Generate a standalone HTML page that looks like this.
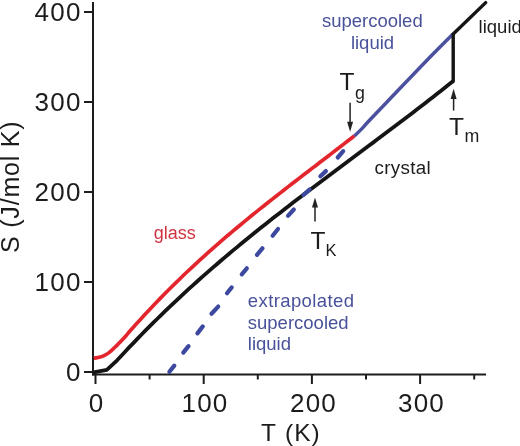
<!DOCTYPE html>
<html><head><meta charset="utf-8">
<style>
html,body{margin:0;padding:0;background:#fff;}
body{width:520px;height:446px;overflow:hidden;}
svg{display:block;}
text{font-family:"Liberation Sans",Arial,sans-serif;}
</style></head>
<body>
<svg width="520" height="446" viewBox="0 0 520 446">
<rect width="520" height="446" fill="#fff"/>
<!-- axes -->
<g stroke="#1c1c1c" stroke-width="2" fill="none">
<line x1="93" y1="2" x2="93" y2="375.5"/>
<line x1="92" y1="374.6" x2="486" y2="374.6"/>
<!-- y ticks -->
<line x1="84" y1="12" x2="93" y2="12"/>
<line x1="84" y1="102" x2="93" y2="102"/>
<line x1="84" y1="192" x2="93" y2="192"/>
<line x1="84" y1="282" x2="93" y2="282"/>
<line x1="84" y1="372" x2="93" y2="372"/>
<!-- x ticks -->
<line x1="95.5" y1="374" x2="95.5" y2="384"/>
<line x1="203.7" y1="374" x2="203.7" y2="384"/>
<line x1="311.9" y1="374" x2="311.9" y2="384"/>
<line x1="420.1" y1="374" x2="420.1" y2="384"/>
<line x1="149.6" y1="374" x2="149.6" y2="379.5"/>
<line x1="257.8" y1="374" x2="257.8" y2="379.5"/>
<line x1="366" y1="374" x2="366" y2="379.5"/>
<line x1="474.2" y1="374" x2="474.2" y2="379.5"/>
</g>
<!-- tick labels -->
<g font-size="26" fill="#1c1c1c" text-anchor="end" letter-spacing="1.2">
<text x="81.6" y="21">400</text>
<text x="81.6" y="111">300</text>
<text x="81.6" y="201">200</text>
<text x="81.6" y="291">100</text>
<text x="81.6" y="381">0</text>
</g>
<g font-size="26" fill="#1c1c1c" text-anchor="middle" letter-spacing="1.2">
<text x="96.5" y="412">0</text>
<text x="205" y="412">100</text>
<text x="313.5" y="412">200</text>
<text x="421.5" y="412">300</text>
</g>
<!-- axis titles -->
<text x="261" y="441.2" font-size="24.5" fill="#1c1c1c" letter-spacing="1" word-spacing="0.7">T (K)</text>
<text transform="translate(18.8,253) rotate(-90)" font-size="25" fill="#1c1c1c" letter-spacing="0.8">S (J/mol K)</text>


<!-- crystal -->
<path fill="none" stroke="#151515" stroke-width="3.8" stroke-linejoin="round" d="M93.6,372.4 L106.8,369.9 L117.1,360.3 L121.1,356.0 L125.1,351.7 L129.1,347.4 L133.1,343.3 L137.1,339.1 L141.1,335.0 L145.1,330.9 L149.1,326.9 L153.1,322.9 L157.1,319.0 L161.1,315.1 L165.1,311.2 L169.1,307.4 L173.1,303.6 L177.1,299.8 L181.1,296.1 L185.1,292.4 L189.1,288.7 L193.1,285.1 L197.1,281.5 L201.1,277.9 L205.1,274.4 L209.1,270.9 L213.1,267.4 L217.1,264.0 L221.1,260.5 L225.1,257.1 L229.1,253.8 L233.1,250.4 L237.1,247.1 L241.1,243.8 L245.1,240.5 L249.1,237.3 L253.1,234.0 L257.1,230.8 L261.1,227.6 L265.1,224.4 L269.1,221.3 L273.1,218.1 L277.1,215.0 L281.1,211.9 L285.1,208.8 L289.1,205.7 L293.1,202.6 L297.1,199.5 L301.1,196.5 L305.1,193.4 L309.1,190.4 L313.1,187.4 L317.1,184.4 L321.1,181.4 L325.1,178.4 L329.1,175.4 L333.1,172.4 L337.1,169.4 L341.1,166.4 L345.1,163.4 L349.1,160.4 L353.1,157.5 L357.1,154.5 L361.1,151.5 L365.1,148.5 L369.1,145.5 L373.1,142.6 L377.1,139.6 L381.1,136.6 L385.1,133.6 L389.1,130.6 L393.1,127.6 L397.1,124.6 L401.1,121.5 L405.1,118.5 L409.1,115.5 L413.1,112.4 L417.1,109.3 L421.1,106.3 L425.1,103.2 L429.1,100.1 L433.1,96.9 L437.1,93.8 L441.1,90.7 L445.1,87.5 L449.1,84.3 L453.0,81.2"/>
<!-- dashed extrapolated liquid -->
<g stroke="#3c499f" stroke-width="4.2" stroke-linecap="round" fill="none">
<line x1="169.4" y1="371.8" x2="174.3" y2="365.6"/>
<line x1="183.3" y1="352.6" x2="188.5" y2="346.1"/>
<line x1="197.4" y1="333.4" x2="202.8" y2="326.4"/>
<line x1="211.5" y1="313.8" x2="218.2" y2="306.6"/>
<line x1="227" y1="293.2" x2="231.7" y2="287.4"/>
<line x1="241.8" y1="274.3" x2="246.8" y2="268.3"/>
<line x1="257" y1="254.8" x2="262.4" y2="248.3"/>
<line x1="272.6" y1="235.7" x2="278" y2="229"/>
<line x1="288" y1="215.8" x2="293.8" y2="209.5"/>
<line x1="303.5" y1="195" x2="309.5" y2="189.5"/>
<line x1="320.4" y1="176.3" x2="325.9" y2="171.1"/>
<line x1="337.7" y1="157.5" x2="343.2" y2="151.2"/>
</g>
<!-- glass -->
<path fill="none" stroke="#e3262e" stroke-width="3.7" stroke-linejoin="round" d="M93.8,358.4 C95.0,358.1 99.1,357.4 101.2,356.8 C103.3,356.2 104.7,355.4 106.2,354.5 C107.8,353.6 109.0,352.7 110.5,351.4 C112.0,350.1 113.9,348.3 115.4,346.8 C116.9,345.3 118.3,344.1 119.7,342.6 C121.1,341.1 122.6,339.5 124.0,338.0 C125.4,336.5 126.7,334.9 128.0,333.4 C129.3,331.8 131.3,329.6 132.0,328.8 L136.0,324.3 L140.0,319.9 L144.0,315.5 L148.0,311.2 L152.0,307.0 L156.0,302.8 L160.0,298.6 L164.0,294.5 L168.0,290.5 L172.0,286.5 L176.0,282.6 L180.0,278.7 L184.0,274.8 L188.0,271.0 L192.0,267.3 L196.0,263.6 L200.0,259.9 L204.0,256.3 L208.0,252.7 L212.0,249.1 L216.0,245.6 L220.0,242.1 L224.0,238.7 L228.0,235.2 L232.0,231.9 L236.0,228.5 L240.0,225.2 L244.0,221.9 L248.0,218.6 L252.0,215.3 L256.0,212.1 L260.0,208.9 L264.0,205.7 L268.0,202.5 L272.0,199.4 L276.0,196.2 L280.0,193.1 L284.0,190.0 L288.0,186.9 L292.0,183.8 L296.0,180.7 L300.0,177.6 L304.0,174.6 L308.0,171.5 L312.0,168.4 L316.0,165.4 L320.0,162.3 L324.0,159.3 L328.0,156.2 L332.0,153.1 L336.0,150.1 L340.0,147.0 L344.0,143.9 L348.0,140.8 L352.0,137.7 L354.3,135.9"/>
<!-- supercooled liquid -->
<path fill="none" stroke="#4c519f" stroke-width="3.5" stroke-linejoin="round" d="M354.3,136.0 C355.6,134.8 359.4,131.3 362.0,128.6 C364.6,125.9 365.8,124.2 370.0,119.8 C374.2,115.4 377.8,111.6 387.0,102.0 C396.2,92.4 414.3,73.3 425.3,62.0 C436.3,50.7 448.4,38.7 453.0,34.0"/>
<!-- liquid -->
<polyline fill="none" stroke="#151515" stroke-width="3.4" stroke-linecap="round" stroke-linejoin="round"
 points="453.2,81.5 453.2,34 485.7,2.6"/>

<!-- arrows -->
<g stroke="#222" stroke-width="1.5">
<line x1="350.1" y1="102.7" x2="350.1" y2="124"/>
<line x1="315" y1="205" x2="315" y2="221.6"/>
<line x1="453.6" y1="97" x2="453.6" y2="110.6"/>
</g>
<g fill="#222">
<polygon points="347.1,121.7 353.1,121.7 350.1,131.8"/>
<polygon points="312,207.5 318,207.5 315,197.5"/>
<polygon points="450.6,99 456.6,99 453.6,88.8"/>
</g>

<!-- labels -->
<g fill="#1c1c1c">
<text x="339.5" y="90.2" font-size="24.5">T</text>
<text x="355" y="98.5" font-size="17.8">g</text>
<text x="310.5" y="248.9" font-size="24.5">T</text>
<text x="325.5" y="256.4" font-size="16.5">K</text>
<text x="449" y="134.7" font-size="24.5">T</text>
<text x="464.6" y="142" font-size="17.8">m</text>
<text x="374.5" y="174.2" font-size="18.8" letter-spacing="0.3">crystal</text>
<text x="478.6" y="32.9" font-size="18.5">liquid</text>
</g>
<text x="153.7" y="238.7" font-size="18" fill="#d23340">glass</text>
<g fill="#485199" font-size="18.5">
<text x="372.3" y="26.8" text-anchor="middle">supercooled</text>
<text x="372.5" y="48.7" text-anchor="middle">liquid</text>
<text x="247.8" y="307.2" letter-spacing="0.4">extrapolated</text>
<text x="247.8" y="328.8">supercooled</text>
<text x="247.8" y="350">liquid</text>
</g>
</svg>
</body></html>
